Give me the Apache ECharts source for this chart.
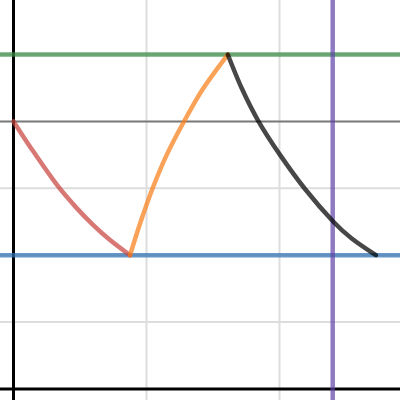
<!DOCTYPE html>
<html>
<head>
<meta charset="utf-8">
<script src="https://cdn.jsdelivr.net/npm/echarts@6/dist/echarts.min.js"></script>
<style>html,body{margin:0;padding:0;background:#fff}#c{width:400px;height:400px}</style>
</head>
<body>
<div id="c"></div>
<script>
// axis ranges
const xMin = -0.1015, xMax = 2.906;
const yMin = -0.1644, yMax = 5.815;
// grid lines
const xGrid = [1, 2];
const yGrid = [1, 2, 3, 4, 5];
// horizontal / vertical lines
const greenY = 5;
const blueY = 2;
const grayY = 4;
const purpleX = 2.4;
// curves
const redX = [0, 0.132, 0.327, 0.477, 0.598, 0.726, 0.876];
const redY = [4, 3.60, 3.05, 2.70, 2.455, 2.227, 2];
const orangeX = [0.876, 0.956, 1.044, 1.152, 1.284, 1.427, 1.611];
const orangeY = [2, 2.5, 2.99, 3.5, 4.006, 4.495, 5];
const blackX = [1.611, 1.716, 1.841, 2.004, 2.192, 2.405, 2.543, 2.725];
const blackY = [5, 4.495, 4.006, 3.5, 2.99, 2.5, 2.25, 2];

const zip = (a, b) => a.map((v, i) => [v, b[i]]);
const hLine = (y) => [[xMin, y], [xMax, y]];
const vLine = (x) => [[x, yMin], [x, yMax]];

function lineSeries(data, color, width, z, smooth) {
  return {
    type: 'line', data: data, symbol: 'none', smooth: smooth || false,
    silent: true, z: z,
    lineStyle: { color: color, width: width, cap: 'round', join: 'round' }
  };
}

const chart = echarts.init(document.getElementById('c'));
const series = [];
xGrid.forEach(x => series.push(lineSeries(vLine(x), '#dddddd', 2, 1)));
yGrid.forEach(y => series.push(lineSeries(hLine(y), '#dddddd', 2, 1)));
series.push(lineSeries(vLine(0), '#000000', 3, 2));
series.push(lineSeries(hLine(0), '#000000', 3, 2));
series.push(lineSeries(hLine(grayY), 'rgba(0,0,0,0.45)', 2, 3));
series.push(lineSeries(hLine(greenY), 'rgba(56,140,70,0.72)', 4.5, 4));
series.push(lineSeries(hLine(blueY), 'rgba(45,112,179,0.72)', 4.5, 5));
series.push(lineSeries(vLine(purpleX), 'rgba(96,66,166,0.7)', 4.5, 6));
series.push(lineSeries(zip(redX, redY), 'rgba(199,68,64,0.72)', 4.5, 7, 0.3));
series.push(lineSeries(zip(orangeX, orangeY), 'rgba(250,126,25,0.72)', 4.5, 8, 0.3));
series.push(lineSeries(zip(blackX, blackY), 'rgba(0,0,0,0.72)', 4.5, 9, 0.3));

chart.setOption({
  animation: false,
  backgroundColor: '#ffffff',
  grid: { left: 0, right: 0, top: 0, bottom: 0 },
  xAxis: { type: 'value', min: xMin, max: xMax, axisLine: {show:false}, axisTick: {show:false}, axisLabel: {show:false}, splitLine: {show:false} },
  yAxis: { type: 'value', min: yMin, max: yMax, axisLine: {show:false}, axisTick: {show:false}, axisLabel: {show:false}, splitLine: {show:false} },
  series: series
});
</script>
</body>
</html>
